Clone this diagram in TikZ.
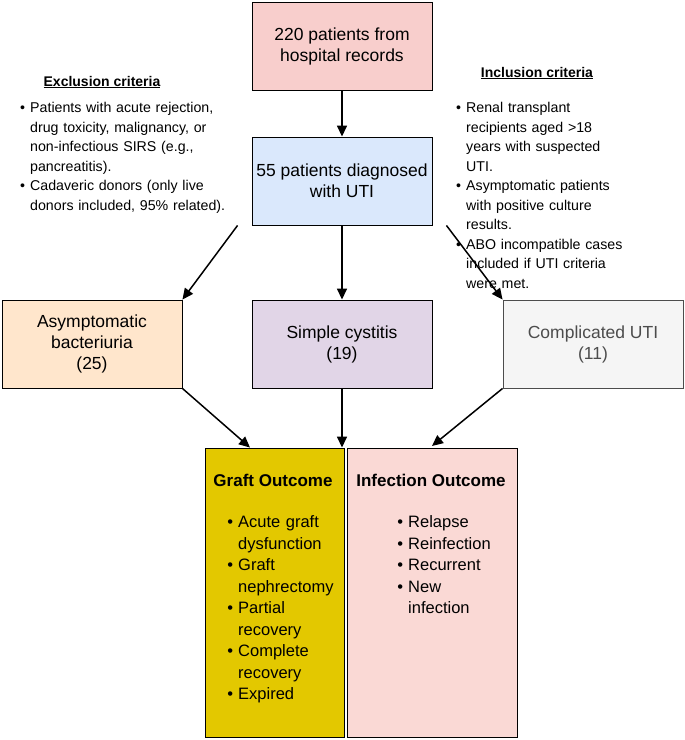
\documentclass[tikz,border=0pt]{standalone}
\usepackage{fontspec}
\setmainfont{Liberation Sans}
\usepackage{enumitem}
\usetikzlibrary{arrows.meta}
\definecolor{cpink}{HTML}{F8CECC}
\definecolor{cblue}{HTML}{DAE8FC}
\definecolor{corange}{HTML}{FFE6CC}
\definecolor{cpurple}{HTML}{E1D5E7}
\definecolor{cgray}{HTML}{F5F5F5}
\definecolor{cgold}{HTML}{E3C800}
\definecolor{crose}{HTML}{FAD9D5}
\begin{document}
\begin{tikzpicture}[x=1pt,y=-1pt,
  box/.style={draw=black,line width=0.9pt,align=center,font=\fontsize{17.5}{21}\selectfont,inner sep=0pt},
  arr/.style={-{Triangle[length=11pt,width=10pt]},line width=1.5pt},
  txt/.style={font=\fontsize{14.2}{19.5}\selectfont,align=left,inner sep=0pt,anchor=north west}]
\useasboundingbox (0,0) rectangle (685,740);
\node[box,fill=cpink,minimum width=180pt,minimum height=88pt] (top) at (342,46) {220 patients from\\hospital records};
\node[box,fill=cblue,minimum width=180pt,minimum height=88pt] (mid) at (342,181) {55 patients diagnosed\\with UTI};
\node[box,fill=corange,minimum width=180pt,minimum height=88pt] (lft) at (92,344) {Asymptomatic\\bacteriuria\\(25)};
\node[box,fill=cpurple,minimum width=180pt,minimum height=88pt] (ctr) at (342,344) {Simple cystitis\\(19)};
\node[box,fill=cgray,draw=black!70,text=black!70,minimum width=180pt,minimum height=88pt] (rgt) at (593,344) {Complicated UTI\\(11)};
\node[draw=black,line width=0.9pt,fill=cgold,minimum width=139pt,minimum height=289pt,inner sep=0pt] (graft) at (274.5,592.5) {};
\node[draw=black,line width=0.9pt,fill=crose,minimum width=170pt,minimum height=289pt,inner sep=0pt] (inf) at (432,592.5) {};
\node[font=\fontsize{17}{20}\selectfont\bfseries] (gh) at (273,480) {Graft Outcome};
\node[font=\fontsize{17}{20}\selectfont\bfseries] (ih) at (431,480) {Infection Outcome};
\node[txt,font=\fontsize{16.5}{21.5}\selectfont,text width=118pt] (gl) at (222,506) {%
\begin{itemize}[leftmargin=16pt,itemsep=0pt,parsep=0pt,topsep=0pt,label=\textbullet]
\item Acute graft dysfunction
\item Graft nephrectomy
\item Partial recovery
\item Complete recovery
\item Expired
\end{itemize}};
\node[txt,font=\fontsize{16.5}{21.5}\selectfont,text width=120pt] (il) at (392,506) {%
\begin{itemize}[leftmargin=16pt,itemsep=0pt,parsep=0pt,topsep=0pt,label=\textbullet]
\item Relapse
\item Reinfection
\item Recurrent
\item New\\infection
\end{itemize}};
\node[font=\fontsize{14}{16}\selectfont\bfseries] (eh) at (102,82) {\underline{Exclusion criteria}};
\node[font=\fontsize{14}{16}\selectfont\bfseries] (ihd) at (537,73) {\underline{Inclusion criteria}};
\node[txt,text width=232pt] (el) at (10,93) {%
\begin{itemize}[leftmargin=20pt,itemsep=0pt,parsep=0pt,topsep=0pt,label=\textbullet]
\item Patients with acute rejection, drug toxicity, malignancy, or non-infectious SIRS (e.g., pancreatitis).
\item Cadaveric donors (only live donors included, 95\% related).
\end{itemize}};
\node[txt,text width=182pt] (incl) at (448,93) {%
\begin{itemize}[leftmargin=18pt,itemsep=0pt,parsep=0pt,topsep=0pt,label=\textbullet]
\item Renal transplant recipients aged >18 years with suspected UTI.
\item Asymptomatic patients with positive culture results.
\item ABO incompatible cases included if UTI criteria were met.
\end{itemize}};
\draw[arr] (top) -- (mid);
\draw[arr] (mid.south west) ++(-14,0) coordinate (a1) -- (lft.north east);
\draw[arr] (mid) -- (ctr);
\draw[arr] (mid.south east) ++(14,0) coordinate (a2) -- (rgt.north west);
\draw[arr] (lft.south east) -- (graft.north -| 250,0) coordinate (g1);
\draw[arr] (ctr) -- (ctr.south |- graft.north);
\draw[arr] (rgt.south west) -- (432,446) coordinate (g2);
\end{tikzpicture}
\end{document}
